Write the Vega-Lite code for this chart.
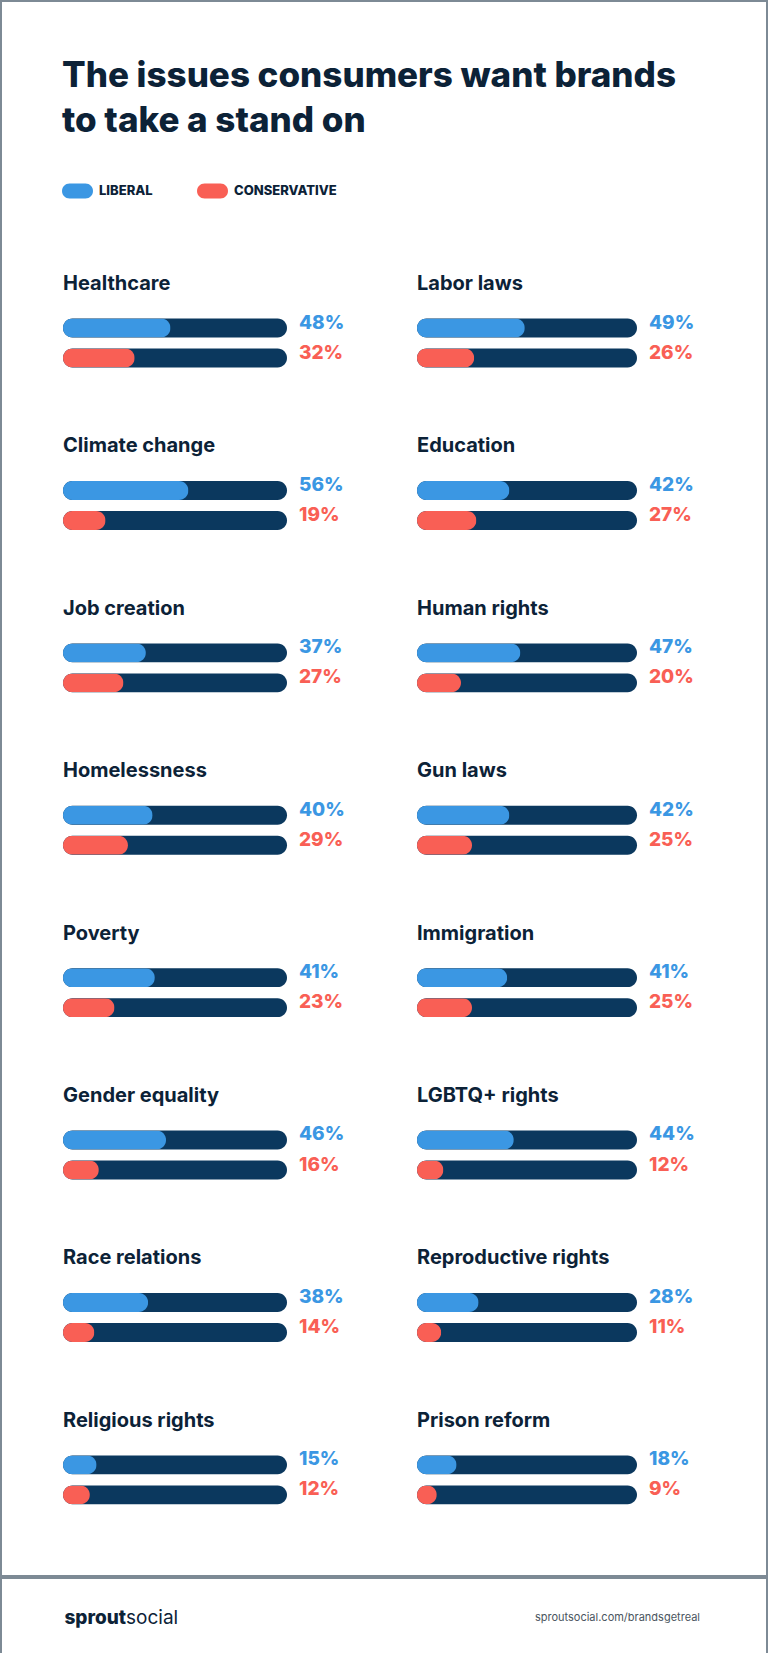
{
  "$schema": "https://vega.github.io/schema/vega-lite/v6.json",
  "padding": 0,
  "background": "white",
  "spacing": 0,
  "config": {
    "view": {"stroke": "#7d8a95", "strokeWidth": 2},
    "font": "Inter"
  },
  "datasets": {
    "d": [
      {"issue": "Healthcare", "col": "left", "row": 1, "series": "Liberal", "value": 0.48},
      {"issue": "Healthcare", "col": "left", "row": 1, "series": "Conservative", "value": 0.32},
      {"issue": "Climate change", "col": "left", "row": 2, "series": "Liberal", "value": 0.56},
      {"issue": "Climate change", "col": "left", "row": 2, "series": "Conservative", "value": 0.19},
      {"issue": "Job creation", "col": "left", "row": 3, "series": "Liberal", "value": 0.37},
      {"issue": "Job creation", "col": "left", "row": 3, "series": "Conservative", "value": 0.27},
      {"issue": "Homelessness", "col": "left", "row": 4, "series": "Liberal", "value": 0.40},
      {"issue": "Homelessness", "col": "left", "row": 4, "series": "Conservative", "value": 0.29},
      {"issue": "Poverty", "col": "left", "row": 5, "series": "Liberal", "value": 0.41},
      {"issue": "Poverty", "col": "left", "row": 5, "series": "Conservative", "value": 0.23},
      {"issue": "Gender equality", "col": "left", "row": 6, "series": "Liberal", "value": 0.46},
      {"issue": "Gender equality", "col": "left", "row": 6, "series": "Conservative", "value": 0.16},
      {"issue": "Race relations", "col": "left", "row": 7, "series": "Liberal", "value": 0.38},
      {"issue": "Race relations", "col": "left", "row": 7, "series": "Conservative", "value": 0.14},
      {"issue": "Religious rights", "col": "left", "row": 8, "series": "Liberal", "value": 0.15},
      {"issue": "Religious rights", "col": "left", "row": 8, "series": "Conservative", "value": 0.12},
      {"issue": "Labor laws", "col": "right", "row": 1, "series": "Liberal", "value": 0.49},
      {"issue": "Labor laws", "col": "right", "row": 1, "series": "Conservative", "value": 0.26},
      {"issue": "Education", "col": "right", "row": 2, "series": "Liberal", "value": 0.42},
      {"issue": "Education", "col": "right", "row": 2, "series": "Conservative", "value": 0.27},
      {"issue": "Human rights", "col": "right", "row": 3, "series": "Liberal", "value": 0.47},
      {"issue": "Human rights", "col": "right", "row": 3, "series": "Conservative", "value": 0.20},
      {"issue": "Gun laws", "col": "right", "row": 4, "series": "Liberal", "value": 0.42},
      {"issue": "Gun laws", "col": "right", "row": 4, "series": "Conservative", "value": 0.25},
      {"issue": "Immigration", "col": "right", "row": 5, "series": "Liberal", "value": 0.41},
      {"issue": "Immigration", "col": "right", "row": 5, "series": "Conservative", "value": 0.25},
      {"issue": "LGBTQ+ rights", "col": "right", "row": 6, "series": "Liberal", "value": 0.44},
      {"issue": "LGBTQ+ rights", "col": "right", "row": 6, "series": "Conservative", "value": 0.12},
      {"issue": "Reproductive rights", "col": "right", "row": 7, "series": "Liberal", "value": 0.28},
      {"issue": "Reproductive rights", "col": "right", "row": 7, "series": "Conservative", "value": 0.11},
      {"issue": "Prison reform", "col": "right", "row": 8, "series": "Liberal", "value": 0.18},
      {"issue": "Prison reform", "col": "right", "row": 8, "series": "Conservative", "value": 0.09}
    ],
    "f": [
      {"slot": "logo", "part": "sprout", "text": "sprout"},
      {"slot": "logo", "part": "social", "text": "social"},
      {"slot": "url", "part": "url", "text": "sproutsocial.com/brandsgetreal"}
    ]
  },
  "vconcat": [
    {
      "width": 766,
      "height": 1575,
      "title": {
        "text": ["The issues consumers want brands", "to take a stand on"],
        "anchor": "start",
        "frame": "group",
        "orient": "top",
        "offset": -166,
        "dx": 61,
        "fontSize": 35,
        "fontWeight": 800,
        "font": "Inter",
        "color": "#0c2237",
        "lineHeight": 45,
        "baseline": "alphabetic"
      },
      "data": {"name": "d"},
      "layer": [
        {
          "transform": [{"filter": "datum.col === 'left'"}],
          "encoding": {
            "y": {"field": "row", "type": "ordinal", "axis": null, "scale": {"range": [306.5, 1503.3], "paddingInner": 0.6305, "paddingOuter": 0}},
            "yOffset": {"field": "series", "type": "nominal", "scale": {"domain": ["Liberal", "Conservative"], "paddingInner": 0, "paddingOuter": 0}}
          },
          "layer": [
            {
              "mark": {"type": "bar", "cornerRadius": 9.5, "color": "#0b385e", "height": {"band": 0.63}},
              "encoding": {
                "x": {"datum": 0, "type": "quantitative", "axis": null, "scale": {"domain": [0, 1], "range": [62, 286]}},
                "x2": {"datum": 1}
              }
            },
            {
              "mark": {"type": "bar", "cornerRadius": 9.5, "height": {"band": 0.63}},
              "encoding": {
                "x": {"field": "value", "type": "quantitative", "axis": null, "scale": {"domain": [0, 1], "range": [62, 286]}},
                "color": {
                  "field": "series", "type": "nominal",
                  "scale": {"domain": ["Liberal", "Conservative"], "range": ["#3b97e3", "#f95f55"]},
                  "legend": {
                    "orient": "none", "legendX": 61, "legendY": 174, "direction": "horizontal", "title": null,
                    "symbolType": "M-0.516,-0.484H0.516A0.484,0.484,0,0,1,0.516,0.484H-0.516A0.484,0.484,0,0,1,-0.516,-0.484Z",
                    "symbolSize": 961, "symbolStrokeWidth": 0, "symbolOpacity": 1,
                    "labelExpr": "upper(datum.label)", "labelFont": "Inter", "labelFontSize": 13, "labelFontWeight": 800,
                    "labelColor": "#0c2237", "labelOffset": 6, "columnPadding": 43
                  }
                }
              }
            },
            {
              "mark": {"type": "text", "align": "left", "baseline": "middle", "dx": 12, "fontSize": 19, "fontWeight": 800, "font": "Inter"},
              "encoding": {
                "x": {"datum": 1, "type": "quantitative", "axis": null, "scale": {"domain": [0, 1], "range": [62, 286]}},
                "text": {"field": "value", "type": "quantitative", "format": ".0%"},
                "color": {"field": "series", "type": "nominal"}
              }
            },
            {
              "transform": [{"filter": "datum.series === 'Liberal'"}],
              "mark": {"type": "text", "align": "left", "baseline": "alphabetic", "fontSize": 20, "fontWeight": 700, "font": "Inter", "color": "#0c2237"},
              "encoding": {
                "x": {"datum": 0, "type": "quantitative", "axis": null, "scale": {"domain": [0, 1], "range": [62, 286]}},
                "y": {"field": "row", "type": "ordinal", "axis": null, "bandPosition": -0.29},
                "yOffset": null,
                "text": {"field": "issue"}
              }
            }
          ]
        },
        {
          "transform": [{"filter": "datum.col === 'right'"}],
          "encoding": {
            "y": {"field": "row", "type": "ordinal", "axis": null},
            "yOffset": {"field": "series", "type": "nominal"}
          },
          "layer": [
            {
              "mark": {"type": "bar", "cornerRadius": 9.5, "color": "#0b385e", "height": {"band": 0.63}},
              "encoding": {
                "x": {"datum": 0, "type": "quantitative", "axis": null, "scale": {"domain": [0, 1], "range": [416, 636]}},
                "x2": {"datum": 1}
              }
            },
            {
              "mark": {"type": "bar", "cornerRadius": 9.5, "height": {"band": 0.63}},
              "encoding": {
                "x": {"field": "value", "type": "quantitative", "axis": null, "scale": {"domain": [0, 1], "range": [416, 636]}},
                "color": {"field": "series", "type": "nominal"}
              }
            },
            {
              "mark": {"type": "text", "align": "left", "baseline": "middle", "dx": 12, "fontSize": 19, "fontWeight": 800, "font": "Inter"},
              "encoding": {
                "x": {"datum": 1, "type": "quantitative", "axis": null, "scale": {"domain": [0, 1], "range": [416, 636]}},
                "text": {"field": "value", "type": "quantitative", "format": ".0%"},
                "color": {"field": "series", "type": "nominal"}
              }
            },
            {
              "transform": [{"filter": "datum.series === 'Liberal'"}],
              "mark": {"type": "text", "align": "left", "baseline": "alphabetic", "fontSize": 20, "fontWeight": 700, "font": "Inter", "color": "#0c2237"},
              "encoding": {
                "x": {"datum": 0, "type": "quantitative", "axis": null, "scale": {"domain": [0, 1], "range": [416, 636]}},
                "y": {"field": "row", "type": "ordinal", "axis": null, "bandPosition": -0.29},
                "yOffset": null,
                "text": {"field": "issue"}
              }
            }
          ]
        }
      ],
      "resolve": {"scale": {"x": "independent"}}
    },
    {
      "width": 766,
      "height": 76,
      "data": {"name": "f"},
      "encoding": {
        "x": {"field": "slot", "type": "nominal", "axis": null, "scale": {"type": "point", "domain": ["logo", "url"], "range": [125, 699], "padding": 0}},
        "text": {"field": "text"}
      },
      "layer": [
        {
          "transform": [{"filter": "datum.part === 'sprout'"}],
          "mark": {"type": "text", "align": "right", "baseline": "alphabetic", "dy": 7.5, "fontSize": 19, "fontWeight": 800, "font": "Inter", "color": "#0c2237"}
        },
        {
          "transform": [{"filter": "datum.part === 'social'"}],
          "mark": {"type": "text", "align": "left", "baseline": "alphabetic", "dy": 7.5, "fontSize": 19, "fontWeight": 400, "font": "Inter", "color": "#0c2237"}
        },
        {
          "transform": [{"filter": "datum.part === 'url'"}],
          "mark": {"type": "text", "align": "right", "baseline": "alphabetic", "dy": 4.5, "fontSize": 11, "fontWeight": 400, "font": "Inter", "color": "#4a5560"}
        }
      ]
    }
  ]
}
